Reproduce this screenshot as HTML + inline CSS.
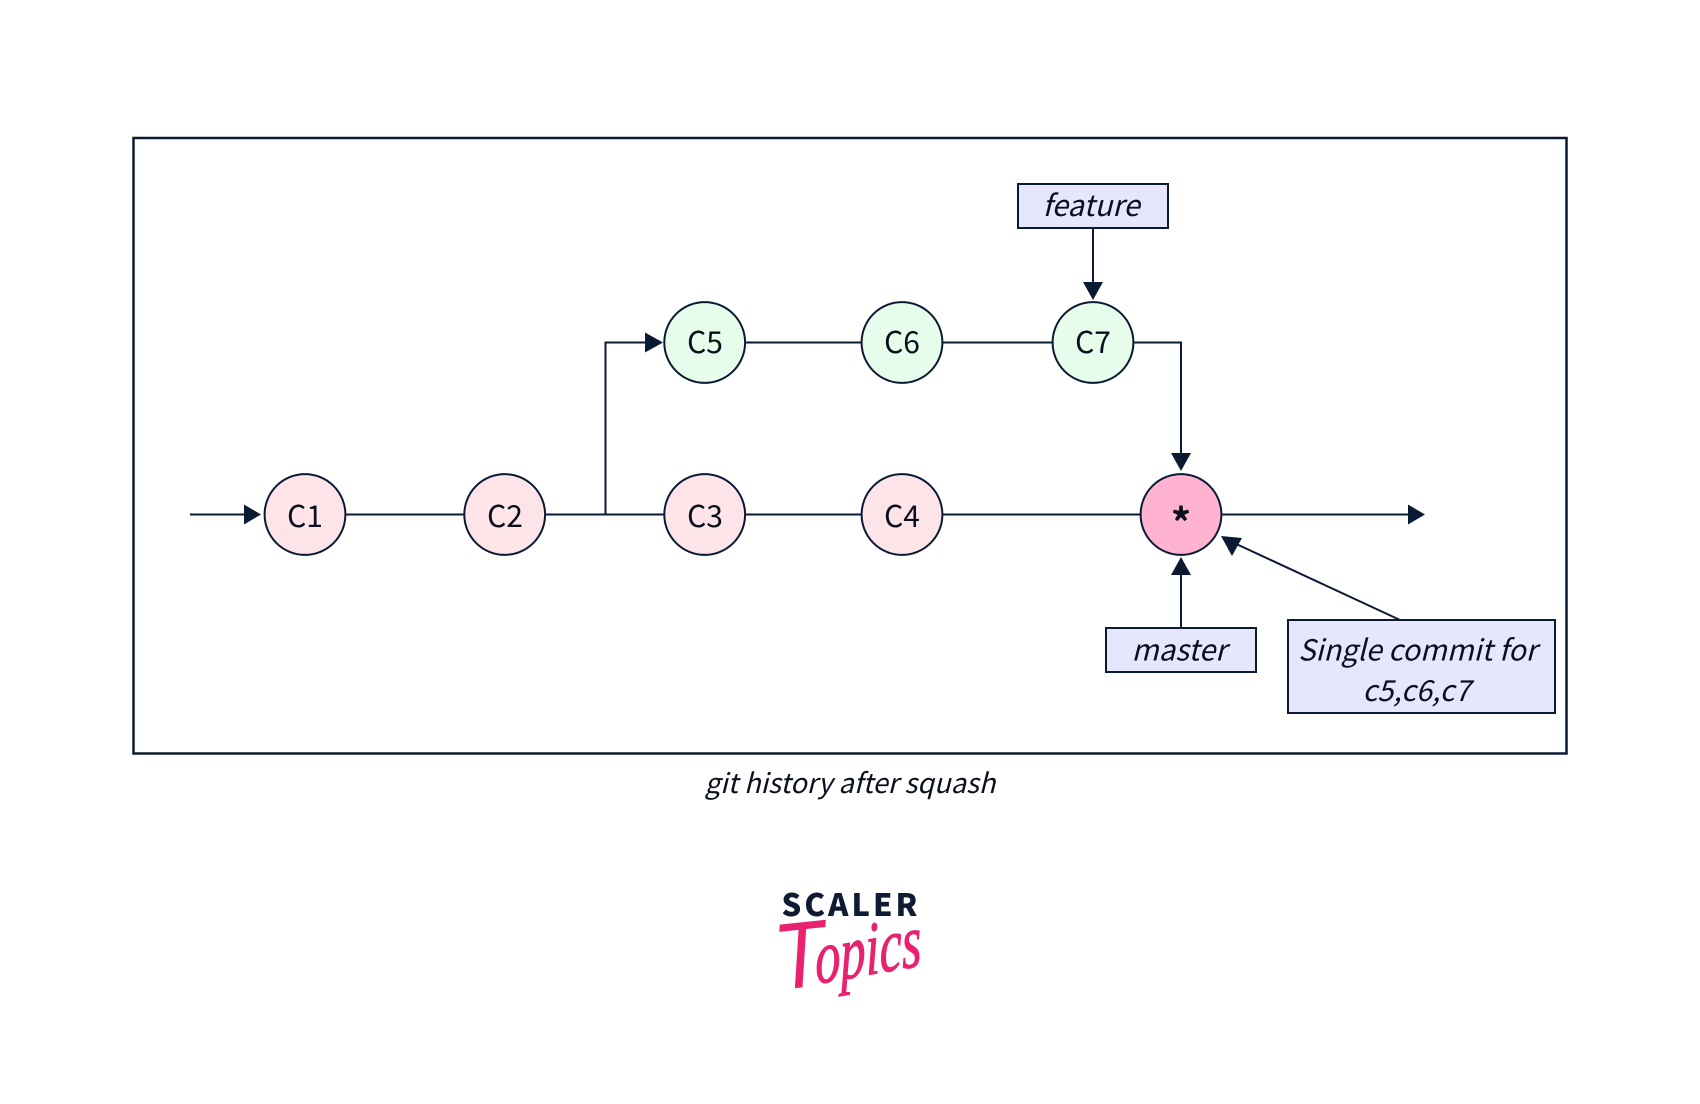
<!DOCTYPE html>
<html><head><meta charset="utf-8"><style>
html,body{margin:0;padding:0;background:#fff}
svg{display:block}
text{font-family:"Noto Sans CJK JP","Liberation Sans",sans-serif;fill:#0a0f1c}
.n{font-size:30px;text-anchor:middle}
.i{font-size:29.300px;text-anchor:middle;font-style:italic}
</style></head><body>
<svg width="1700" height="1104" viewBox="0 0 1700 1104" xmlns="http://www.w3.org/2000/svg">
<rect width="1700" height="1104" fill="#fff"/>
<rect x="133.500" y="138" width="1433" height="615.500" fill="#fff" stroke="#0b1a33" stroke-width="2.500"/>
<g fill="none" stroke="#0b1a33" stroke-width="2">
<path d="M190 514.500H248"/>
<path d="M345 514.500H1140"/>
<path d="M605.500 514.500V342.500H648"/>
<path d="M745 342.500H1053"/>
<path d="M1133 342.500H1181V455"/>
<path d="M1221 514.500H1410"/>
<path d="M1093 228V284"/>
<path d="M1181 628V572"/>
<path d="M1400 620L1232 542"/>
</g>
<g fill="#0b1a33">
<path d="M244 504.500L261 514.500L244 524.500Z"/>
<path d="M645 332.500L663 342.500L645 352.500Z"/>
<path d="M1083 282L1093 300L1103 282Z"/>
<path d="M1171 453L1181 471L1191 453Z"/>
<path d="M1408 504.500L1425 514.500L1408 524.500Z"/>
<path d="M1171 575L1181 557L1191 575Z"/>
<path d="M1221 536L1242 538L1232 556Z"/>
</g>
<g stroke="#0b1a33" stroke-width="2">
<circle cx="305" cy="514.500" r="40.400" fill="#fde4e8"/>
<circle cx="504.700" cy="514.500" r="40.400" fill="#fde4e8"/>
<circle cx="704.700" cy="514.500" r="40.400" fill="#fde4e8"/>
<circle cx="902" cy="514.500" r="40.400" fill="#fde4e8"/>
<circle cx="704.700" cy="342.500" r="40.400" fill="#e6fdec"/>
<circle cx="902" cy="342.500" r="40.400" fill="#e6fdec"/>
<circle cx="1093" cy="342.500" r="40.400" fill="#e6fdec"/>
<circle cx="1181" cy="514.500" r="40.400" fill="#ffb3d1"/>
<rect x="1018" y="184" width="150" height="44" fill="#e6e6fd"/>
<rect x="1106" y="628" width="150" height="44" fill="#e6e6fd"/>
<rect x="1288" y="620" width="267" height="93" fill="#e6e6fd"/>
</g>
<text class="n" x="305" y="527">C1</text>
<text class="n" x="505" y="527">C2</text>
<text class="n" x="705" y="527">C3</text>
<text class="n" x="902" y="527">C4</text>
<text class="n" x="705" y="353">C5</text>
<text class="n" x="902" y="353">C6</text>
<text class="n" x="1093" y="353">C7</text>
<text class="n" x="1181" y="538" style="font-weight:700;font-size:40px">*</text>
<text class="i" x="1091" y="216">feature</text>
<text class="i" x="1179" y="660.500">master</text>
<text class="i" x="1417.500" y="660.500" style="font-size:29px">Single commit for</text>
<text class="i" x="1416.500" y="701" style="font-size:29px">c5,c6,c7</text>
<text class="i" x="850" y="793" style="font-size:27.300px">git history after squash</text>
<text x="851" y="916" text-anchor="middle" style="font-size:31px;font-weight:900;letter-spacing:3px;fill:#0f1b33">SCALER</text>
<text transform="translate(778 990) rotate(-6) scale(1 1.15)" style="font-family:'Liberation Sans',sans-serif;font-style:italic;font-size:82px;fill:#e8226f">T</text>
<text transform="translate(816 984) rotate(-10) skewX(-8) scale(.88 1.3)" style="font-family:'Liberation Serif',serif;font-style:italic;font-size:58px;fill:#e8226f;stroke:#e8226f;stroke-width:.8">opics</text>
</svg>
</body></html>
